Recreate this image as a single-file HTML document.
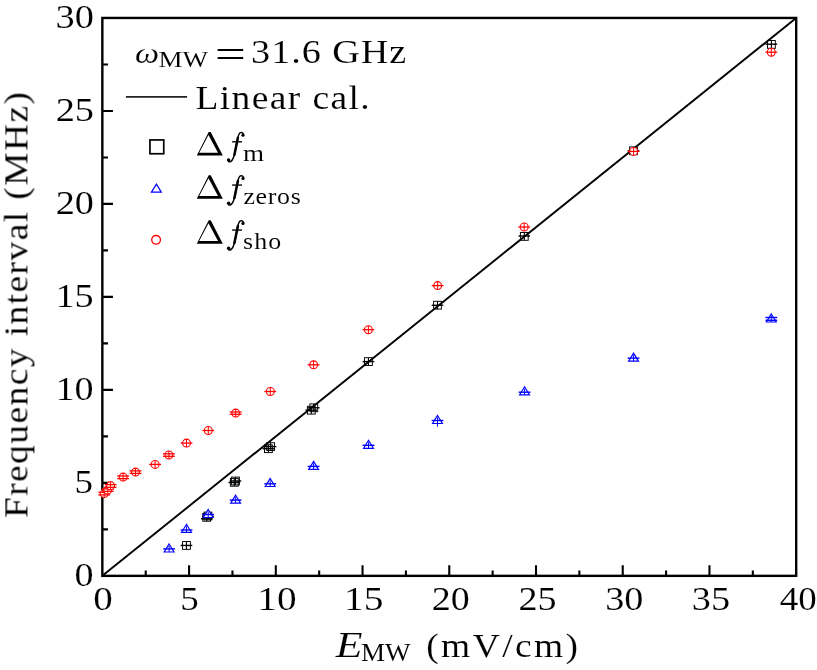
<!DOCTYPE html><html><head><meta charset="utf-8"><style>html,body{margin:0;padding:0;background:#fff;overflow:hidden}svg{display:block}text{font-family:"Liberation Serif",serif;font-size:100px}</style></head><body>
<svg width="817" height="670" viewBox="0 0 817 670">
<rect x="0" y="0" width="817" height="670" fill="#fff"/>
<path d="M145.72 575.85V570.45 M189.08 575.85V565.35 M232.45 575.85V570.45 M275.81 575.85V565.35 M319.18 575.85V570.45 M362.54 575.85V565.35 M405.91 575.85V570.45 M449.27 575.85V565.35 M492.64 575.85V570.45 M536.01 575.85V565.35 M579.37 575.85V570.45 M622.74 575.85V565.35 M666.10 575.85V570.45 M709.47 575.85V565.35 M752.83 575.85V570.45 M102.35 529.36H107.95 M102.35 482.87H112.95 M102.35 436.38H107.95 M102.35 389.88H112.95 M102.35 343.39H107.95 M102.35 296.90H112.95 M102.35 250.41H107.95 M102.35 203.92H112.95 M102.35 157.43H107.95 M102.35 110.93H112.95 M102.35 64.44H107.95" stroke="#000" stroke-width="2.1" fill="none"/>
<rect x="102.35" y="17.95" width="693.85" height="557.90" fill="none" stroke="#000" stroke-width="2.4"/>
<rect x="182.55" y="541.55" width="7.8" height="7.8" fill="none" stroke="#000" stroke-width="0.95"/><path d="M180.65 545.45H192.25" stroke="#000" stroke-width="1.4"/><path d="M186.45 541.55V549.35" stroke="#000" stroke-width="1.1"/><rect x="204.00" y="512.10" width="7.8" height="7.8" fill="none" stroke="#000" stroke-width="0.95"/><path d="M202.10 516.30H213.70" stroke="#000" stroke-width="1.4"/><path d="M207.90 512.10V519.90" stroke="#000" stroke-width="1.1"/><rect x="202.80" y="513.40" width="7.8" height="7.8" fill="none" stroke="#000" stroke-width="0.95"/><path d="M200.90 518.80H212.50" stroke="#000" stroke-width="1.4"/><path d="M206.70 513.40V521.20" stroke="#000" stroke-width="1.1"/><rect x="230.40" y="478.40" width="7.8" height="7.8" fill="none" stroke="#000" stroke-width="0.95"/><path d="M228.50 482.50H240.10" stroke="#000" stroke-width="1.4"/><path d="M234.30 478.40V486.20" stroke="#000" stroke-width="1.1"/><rect x="231.60" y="477.10" width="7.8" height="7.8" fill="none" stroke="#000" stroke-width="0.95"/><path d="M229.70 481.00H241.30" stroke="#000" stroke-width="1.4"/><path d="M235.50 477.10V484.90" stroke="#000" stroke-width="1.1"/><rect x="264.50" y="444.80" width="7.8" height="7.8" fill="none" stroke="#000" stroke-width="0.95"/><path d="M262.60 448.70H274.20" stroke="#000" stroke-width="1.4"/><path d="M268.40 444.80V452.60" stroke="#000" stroke-width="1.1"/><rect x="266.70" y="442.70" width="7.8" height="7.8" fill="none" stroke="#000" stroke-width="0.95"/><path d="M264.80 446.60H276.40" stroke="#000" stroke-width="1.4"/><path d="M270.60 442.70V450.50" stroke="#000" stroke-width="1.1"/><rect x="307.40" y="406.30" width="7.8" height="7.8" fill="none" stroke="#000" stroke-width="0.95"/><path d="M305.50 410.20H317.10" stroke="#000" stroke-width="1.4"/><path d="M311.30 406.30V414.10" stroke="#000" stroke-width="1.1"/><rect x="309.90" y="403.90" width="7.8" height="7.8" fill="none" stroke="#000" stroke-width="0.95"/><path d="M308.00 407.80H319.60" stroke="#000" stroke-width="1.4"/><path d="M313.80 403.90V411.70" stroke="#000" stroke-width="1.1"/><rect x="364.55" y="357.70" width="7.8" height="7.8" fill="none" stroke="#000" stroke-width="0.95"/><path d="M362.65 361.60H374.25" stroke="#000" stroke-width="1.4"/><path d="M368.45 357.70V365.50" stroke="#000" stroke-width="1.1"/><rect x="433.60" y="301.30" width="7.8" height="7.8" fill="none" stroke="#000" stroke-width="0.95"/><path d="M431.70 305.30H443.30" stroke="#000" stroke-width="1.4"/><path d="M437.50 301.30V309.10" stroke="#000" stroke-width="1.1"/><rect x="520.40" y="232.50" width="7.8" height="7.8" fill="none" stroke="#000" stroke-width="0.95"/><path d="M518.50 236.00H530.10" stroke="#000" stroke-width="1.4"/><path d="M524.30 232.50V240.30" stroke="#000" stroke-width="1.1"/><rect x="629.60" y="146.90" width="7.8" height="7.8" fill="none" stroke="#000" stroke-width="0.95"/><path d="M627.70 150.80H639.30" stroke="#000" stroke-width="1.4"/><path d="M633.50 146.90V154.70" stroke="#000" stroke-width="1.1"/><rect x="767.50" y="40.50" width="7.8" height="7.8" fill="none" stroke="#000" stroke-width="0.95"/><path d="M765.60 44.20H777.20" stroke="#000" stroke-width="1.4"/><path d="M771.40 40.50V48.30" stroke="#000" stroke-width="1.1"/><line x1="102.35" y1="575.85" x2="796.2" y2="17.95" stroke="#000" stroke-width="1.9"/><path d="M169.10 544.00L174.00 552.00H164.20Z" fill="#fff" stroke="#00f" stroke-width="1.2" stroke-linejoin="miter"/><path d="M163.20 548.90H175.00" stroke="#00f" stroke-width="1.4"/><path d="M169.10 546.00V552.00" stroke="#00f" stroke-width="1.0"/><path d="M186.50 524.30L191.40 532.30H181.60Z" fill="#fff" stroke="#00f" stroke-width="1.2" stroke-linejoin="miter"/><path d="M180.60 530.00H192.40" stroke="#00f" stroke-width="1.4"/><path d="M186.50 526.30V532.30" stroke="#00f" stroke-width="1.0"/><path d="M208.20 509.50L213.10 517.50H203.30Z" fill="#fff" stroke="#00f" stroke-width="1.2" stroke-linejoin="miter"/><path d="M202.30 514.50H214.10" stroke="#00f" stroke-width="1.4"/><path d="M208.20 511.50V517.50" stroke="#00f" stroke-width="1.0"/><path d="M235.60 495.20L240.50 503.20H230.70Z" fill="#fff" stroke="#00f" stroke-width="1.2" stroke-linejoin="miter"/><path d="M229.70 500.10H241.50" stroke="#00f" stroke-width="1.4"/><path d="M235.60 497.20V503.20" stroke="#00f" stroke-width="1.0"/><path d="M270.20 478.50L275.10 486.50H265.30Z" fill="#fff" stroke="#00f" stroke-width="1.2" stroke-linejoin="miter"/><path d="M264.30 483.80H276.10" stroke="#00f" stroke-width="1.4"/><path d="M270.20 480.50V486.50" stroke="#00f" stroke-width="1.0"/><path d="M313.60 461.40L318.50 469.40H308.70Z" fill="#fff" stroke="#00f" stroke-width="1.2" stroke-linejoin="miter"/><path d="M307.70 466.40H319.50" stroke="#00f" stroke-width="1.4"/><path d="M313.60 463.40V469.40" stroke="#00f" stroke-width="1.0"/><path d="M368.50 440.30L373.40 448.30H363.60Z" fill="#fff" stroke="#00f" stroke-width="1.2" stroke-linejoin="miter"/><path d="M362.60 445.30H374.40" stroke="#00f" stroke-width="1.4"/><path d="M368.50 442.30V448.30" stroke="#00f" stroke-width="1.0"/><path d="M437.50 415.50L442.40 423.50H432.60Z" fill="#fff" stroke="#00f" stroke-width="1.2" stroke-linejoin="miter"/><path d="M431.60 420.50H443.40" stroke="#00f" stroke-width="1.4"/><path d="M437.50 417.50V426.60" stroke="#00f" stroke-width="1.0"/><path d="M524.55 386.80L529.45 394.80H519.65Z" fill="#fff" stroke="#00f" stroke-width="1.2" stroke-linejoin="miter"/><path d="M518.65 392.20H530.45" stroke="#00f" stroke-width="1.4"/><path d="M524.55 388.80V394.80" stroke="#00f" stroke-width="1.0"/><path d="M633.55 353.10L638.45 361.10H628.65Z" fill="#fff" stroke="#00f" stroke-width="1.2" stroke-linejoin="miter"/><path d="M627.65 358.10H639.45" stroke="#00f" stroke-width="1.4"/><path d="M633.55 355.10V361.10" stroke="#00f" stroke-width="1.0"/><path d="M771.30 314.00L776.20 322.00H766.40Z" fill="#fff" stroke="#00f" stroke-width="1.2" stroke-linejoin="miter"/><path d="M765.40 317.50H777.20" stroke="#00f" stroke-width="1.4"/><path d="M765.40 320.30H777.20" stroke="#00f" stroke-width="1.4"/><path d="M771.30 316.00V322.00" stroke="#00f" stroke-width="1.0"/><circle cx="104.20" cy="493.60" r="3.95" fill="#fff" stroke="#f00" stroke-width="1.1"/><path d="M98.30 492.30H110.10" stroke="#f00" stroke-width="1.3"/><path d="M98.30 494.90H110.10" stroke="#f00" stroke-width="1.3"/><path d="M104.20 489.65V497.55" stroke="#f00" stroke-width="1.0"/><circle cx="107.80" cy="490.00" r="3.95" fill="#fff" stroke="#f00" stroke-width="1.1"/><path d="M101.90 488.80H113.70" stroke="#f00" stroke-width="1.3"/><path d="M101.90 491.30H113.70" stroke="#f00" stroke-width="1.3"/><path d="M107.80 486.05V493.95" stroke="#f00" stroke-width="1.0"/><circle cx="110.60" cy="485.70" r="3.95" fill="#fff" stroke="#f00" stroke-width="1.1"/><path d="M104.70 484.60H116.50" stroke="#f00" stroke-width="1.3"/><path d="M104.70 487.30H116.50" stroke="#f00" stroke-width="1.3"/><path d="M110.60 481.75V489.65" stroke="#f00" stroke-width="1.0"/><circle cx="123.15" cy="477.10" r="3.95" fill="#fff" stroke="#f00" stroke-width="1.1"/><path d="M117.25 476.00H129.05" stroke="#f00" stroke-width="1.3"/><path d="M117.25 478.60H129.05" stroke="#f00" stroke-width="1.3"/><path d="M123.15 473.15V481.05" stroke="#f00" stroke-width="1.0"/><circle cx="135.50" cy="472.10" r="3.95" fill="#fff" stroke="#f00" stroke-width="1.1"/><path d="M129.60 470.90H141.40" stroke="#f00" stroke-width="1.3"/><path d="M129.60 473.40H141.40" stroke="#f00" stroke-width="1.3"/><path d="M135.50 468.15V476.05" stroke="#f00" stroke-width="1.0"/><circle cx="155.10" cy="464.40" r="3.95" fill="#fff" stroke="#f00" stroke-width="1.1"/><path d="M149.20 464.40H161.00" stroke="#f00" stroke-width="1.3"/><path d="M155.10 460.45V468.35" stroke="#f00" stroke-width="1.0"/><circle cx="168.90" cy="455.00" r="3.95" fill="#fff" stroke="#f00" stroke-width="1.1"/><path d="M163.00 453.80H174.80" stroke="#f00" stroke-width="1.3"/><path d="M163.00 456.30H174.80" stroke="#f00" stroke-width="1.3"/><path d="M168.90 451.05V458.95" stroke="#f00" stroke-width="1.0"/><circle cx="186.50" cy="443.10" r="3.95" fill="#fff" stroke="#f00" stroke-width="1.1"/><path d="M180.60 443.10H192.40" stroke="#f00" stroke-width="1.3"/><path d="M186.50 439.15V447.05" stroke="#f00" stroke-width="1.0"/><circle cx="208.30" cy="430.50" r="3.95" fill="#fff" stroke="#f00" stroke-width="1.1"/><path d="M202.40 430.50H214.20" stroke="#f00" stroke-width="1.3"/><path d="M208.30 426.55V434.45" stroke="#f00" stroke-width="1.0"/><circle cx="235.70" cy="413.10" r="3.95" fill="#fff" stroke="#f00" stroke-width="1.1"/><path d="M229.80 412.00H241.60" stroke="#f00" stroke-width="1.3"/><path d="M229.80 414.30H241.60" stroke="#f00" stroke-width="1.3"/><path d="M235.70 409.15V417.05" stroke="#f00" stroke-width="1.0"/><circle cx="270.30" cy="391.50" r="3.95" fill="#fff" stroke="#f00" stroke-width="1.1"/><path d="M264.40 391.50H276.20" stroke="#f00" stroke-width="1.3"/><path d="M270.30 387.55V395.45" stroke="#f00" stroke-width="1.0"/><circle cx="313.60" cy="364.80" r="3.95" fill="#fff" stroke="#f00" stroke-width="1.1"/><path d="M307.70 364.80H319.50" stroke="#f00" stroke-width="1.3"/><path d="M313.60 360.85V368.75" stroke="#f00" stroke-width="1.0"/><circle cx="368.40" cy="329.70" r="3.95" fill="#fff" stroke="#f00" stroke-width="1.1"/><path d="M362.50 329.70H374.30" stroke="#f00" stroke-width="1.3"/><path d="M368.40 325.75V333.65" stroke="#f00" stroke-width="1.0"/><circle cx="437.65" cy="285.60" r="3.95" fill="#fff" stroke="#f00" stroke-width="1.1"/><path d="M431.75 285.60H443.55" stroke="#f00" stroke-width="1.3"/><path d="M437.65 281.65V289.55" stroke="#f00" stroke-width="1.0"/><circle cx="524.20" cy="227.00" r="3.95" fill="#fff" stroke="#f00" stroke-width="1.1"/><path d="M518.30 227.00H530.10" stroke="#f00" stroke-width="1.3"/><path d="M524.20 223.05V230.95" stroke="#f00" stroke-width="1.0"/><circle cx="633.60" cy="151.40" r="3.95" fill="#fff" stroke="#f00" stroke-width="1.1"/><path d="M627.70 151.40H639.50" stroke="#f00" stroke-width="1.3"/><path d="M633.60 147.45V155.35" stroke="#f00" stroke-width="1.0"/><circle cx="771.30" cy="52.20" r="3.95" fill="#fff" stroke="#f00" stroke-width="1.1"/><path d="M765.40 52.20H777.20" stroke="#f00" stroke-width="1.3"/><path d="M771.30 48.25V56.15" stroke="#f00" stroke-width="1.0"/>
<rect x="149.95" y="139.95" width="13.8" height="13.8" fill="none" stroke="#000" stroke-width="1.7"/>
<path d="M156.4 184.1L161.3 192.2H151.4Z" fill="none" stroke="#00f" stroke-width="1.25"/>
<circle cx="156.1" cy="239.85" r="4.35" fill="none" stroke="#f00" stroke-width="1.3"/>
<path d="M125.9 96.9H187.1" stroke="#222" stroke-width="1.9"/>
<g style="will-change:transform" stroke="#fff" stroke-width="0.3"><text transform="matrix(0.39059 0 0 0.34222 93.235 610.458)" fill="#000">0</text><text transform="matrix(0.37019 0 0 0.34737 180.353 610.453)" fill="#000">5</text><text transform="matrix(0.39314 0 0 0.34222 257.373 610.458)" fill="#000">10</text><text transform="matrix(0.39427 0 0 0.34478 344.094 610.455)" fill="#000">15</text><text transform="matrix(0.37984 0 0 0.34222 431.766 610.458)" fill="#000">20</text><text transform="matrix(0.38087 0 0 0.34349 518.492 610.457)" fill="#000">25</text><text transform="matrix(0.38087 0 0 0.34222 605.128 610.458)" fill="#000">30</text><text transform="matrix(0.38192 0 0 0.34349 691.855 610.457)" fill="#000">35</text><text transform="matrix(0.36976 0 0 0.34222 779.660 610.458)" fill="#000">40</text><text transform="matrix(0.38118 0 0 0.34222 74.471 586.308)" fill="#000">0</text><text transform="matrix(0.37019 0 0 0.34737 74.571 493.319)" fill="#000">5</text><text transform="matrix(0.38171 0 0 0.34222 55.460 400.341)" fill="#000">10</text><text transform="matrix(0.38281 0 0 0.34478 55.450 307.355)" fill="#000">15</text><text transform="matrix(0.38256 0 0 0.34222 55.678 214.374)" fill="#000">20</text><text transform="matrix(0.38361 0 0 0.34349 55.674 121.390)" fill="#000">25</text><text transform="matrix(0.38361 0 0 0.34222 55.578 28.408)" fill="#000">30</text><text transform="matrix(0.43786 0 0 0.34809 335.647 657.200)" font-style="italic" fill="#000">E</text><text transform="matrix(0.27074 0 0 0.24179 360.888 661.437)" fill="#000">MW</text><text transform="matrix(0.37520 0 0 0.33500 426.212 657.100)" letter-spacing="6.384" fill="#000">(mV/cm)</text><text transform="matrix(0 -0.37520 0.33500 0 27.900 518.126)" letter-spacing="3.772" fill="#000">Frequency interval (MHz)</text><text transform="matrix(0.34127 0 0 0.30417 134.991 62.996)" font-style="italic" fill="#000">ω</text><text transform="matrix(0.27074 0 0 0.23134 158.488 67.253)" fill="#000">MW</text><text transform="matrix(0.55269 0 0 0.40800 214.737 68.266)" fill="#000">=</text><text transform="matrix(0.38187 0 0 0.34096 251.086 63.389)" letter-spacing="2.510" fill="#000">31.6 GHz</text><text transform="matrix(0.37520 0 0 0.33500 195.474 108.500)" letter-spacing="3.696" fill="#000">Linear cal.</text><text transform="matrix(0.27071 0 0 0.24043 243.059 161.000)" fill="#000">m</text><text transform="matrix(0.25896 0 0 0.23542 243.388 203.865)" letter-spacing="2.745" fill="#000">zeros</text><text transform="matrix(0.25901 0 0 0.23546 243.064 249.265)" letter-spacing="4.257" fill="#000">sho</text></g><g transform="translate(0 0)"><path d="M208.7 132.0H210.7L222.8 155.4H196.8Z M208.5 135.1L199.2 152.8H218.0Z" fill="#000" fill-rule="evenodd"/><path d="M243.7 134.6C243.3 132.6 241.2 131.8 239.8 133.0C238.7 134.0 238.2 136.0 237.6 139.0L235.0 152.0C234.2 156.3 232.7 160.0 230.9 161.4C229.9 162.2 228.8 161.9 228.2 161.0" fill="none" stroke="#000" stroke-width="1.45"/><path d="M237.9 137.8L234.4 154.8" stroke="#000" stroke-width="2.5" stroke-linecap="round"/><circle cx="243.0" cy="135.2" r="1.6"/><circle cx="228.6" cy="160.1" r="1.75"/><path d="M232.1 141.8H242.0" stroke="#000" stroke-width="1.35"/></g><g transform="translate(0 43.25)"><path d="M208.7 132.0H210.7L222.8 155.4H196.8Z M208.5 135.1L199.2 152.8H218.0Z" fill="#000" fill-rule="evenodd"/><path d="M243.7 134.6C243.3 132.6 241.2 131.8 239.8 133.0C238.7 134.0 238.2 136.0 237.6 139.0L235.0 152.0C234.2 156.3 232.7 160.0 230.9 161.4C229.9 162.2 228.8 161.9 228.2 161.0" fill="none" stroke="#000" stroke-width="1.45"/><path d="M237.9 137.8L234.4 154.8" stroke="#000" stroke-width="2.5" stroke-linecap="round"/><circle cx="243.0" cy="135.2" r="1.6"/><circle cx="228.6" cy="160.1" r="1.75"/><path d="M232.1 141.8H242.0" stroke="#000" stroke-width="1.35"/></g><g transform="translate(0 88.25)"><path d="M208.7 132.0H210.7L222.8 155.4H196.8Z M208.5 135.1L199.2 152.8H218.0Z" fill="#000" fill-rule="evenodd"/><path d="M243.7 134.6C243.3 132.6 241.2 131.8 239.8 133.0C238.7 134.0 238.2 136.0 237.6 139.0L235.0 152.0C234.2 156.3 232.7 160.0 230.9 161.4C229.9 162.2 228.8 161.9 228.2 161.0" fill="none" stroke="#000" stroke-width="1.45"/><path d="M237.9 137.8L234.4 154.8" stroke="#000" stroke-width="2.5" stroke-linecap="round"/><circle cx="243.0" cy="135.2" r="1.6"/><circle cx="228.6" cy="160.1" r="1.75"/><path d="M232.1 141.8H242.0" stroke="#000" stroke-width="1.35"/></g>
</svg></body></html>
